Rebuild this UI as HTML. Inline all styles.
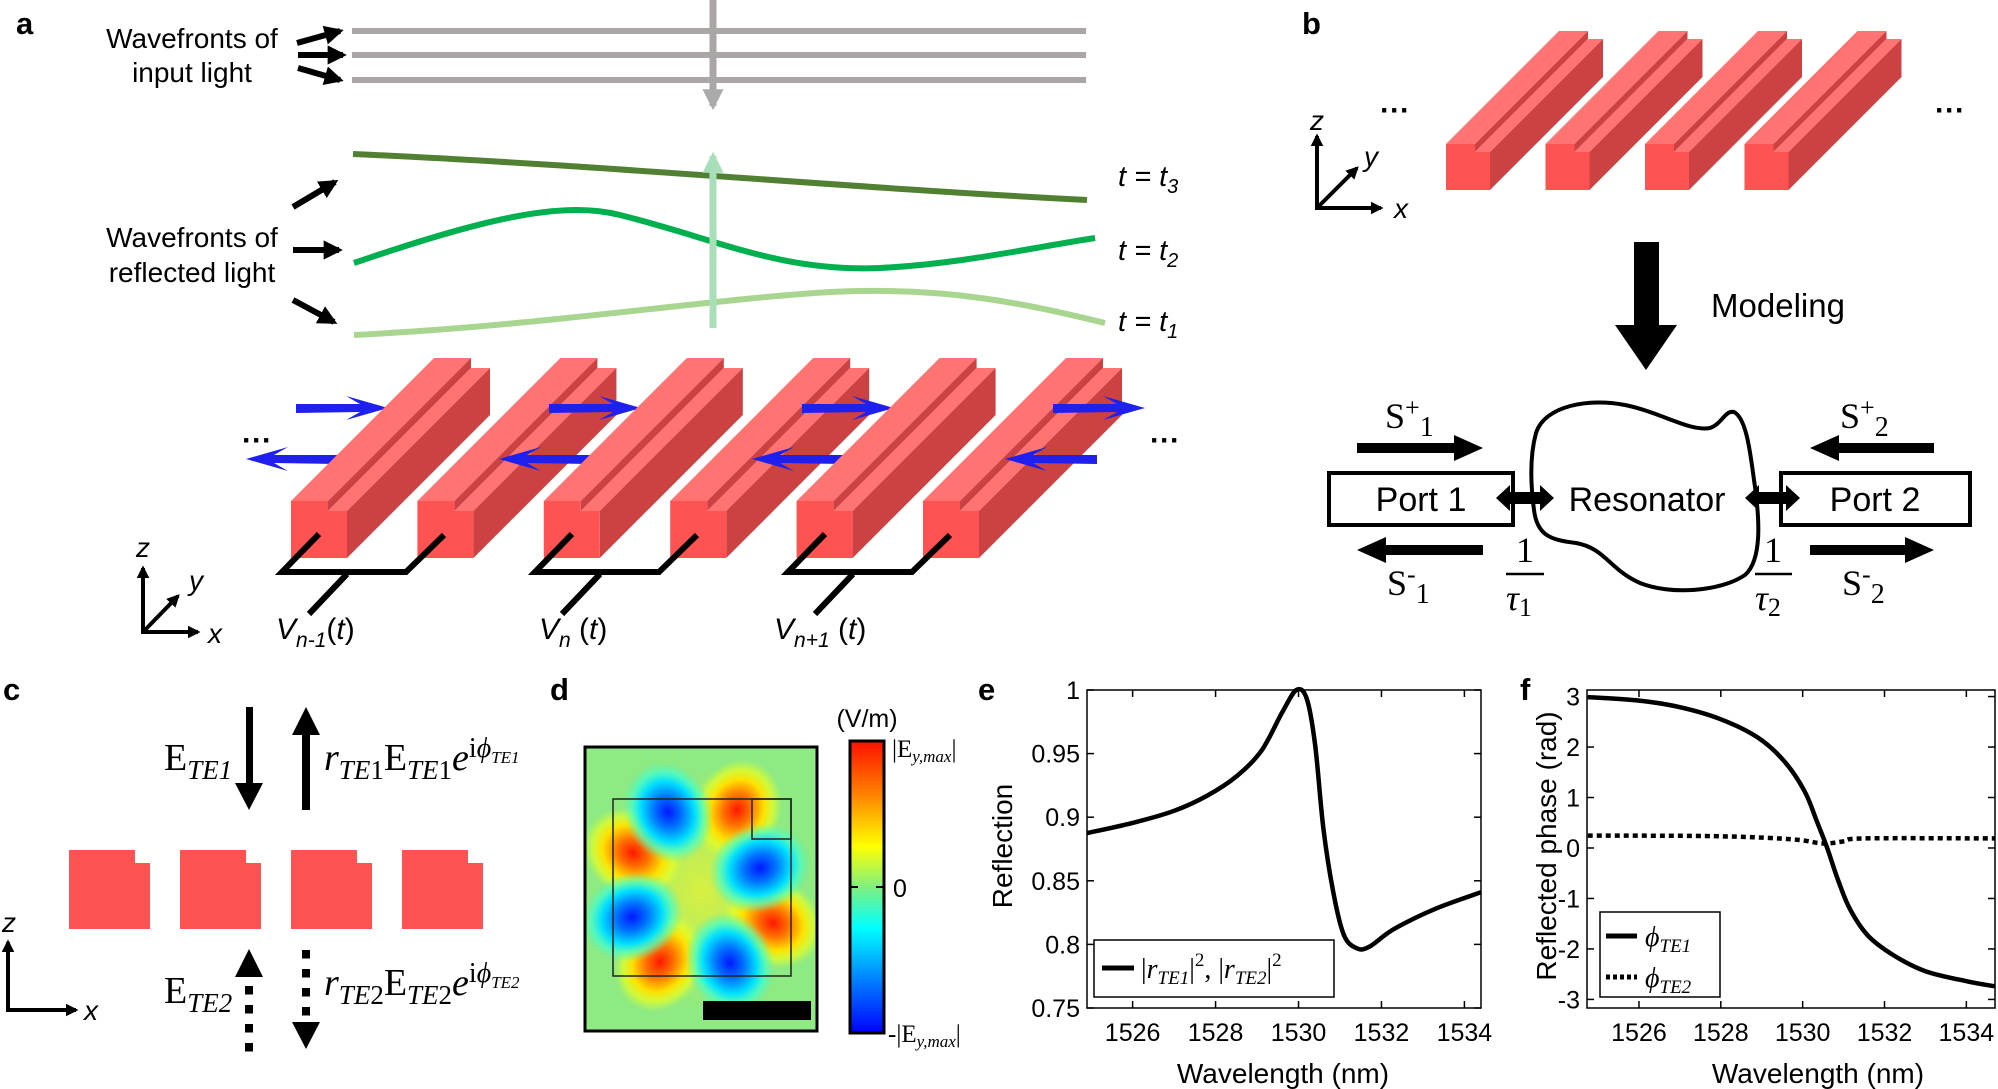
<!DOCTYPE html>
<html><head><meta charset="utf-8"><style>
html,body{margin:0;padding:0;background:#fff;}
svg{display:block;font-family:"Liberation Sans",sans-serif;}
.ser{font-family:"Liberation Serif",serif;}
</style></head><body>
<svg id="fig" width="1998" height="1089" viewBox="0 0 1998 1089" xmlns="http://www.w3.org/2000/svg">
<defs>
<marker id="ah" viewBox="0 0 10 10" refX="8" refY="5" markerWidth="3.2" markerHeight="3.2" orient="auto"><path d="M0,0L10,5L0,10z" fill="#000"/></marker>
<marker id="ahg" viewBox="0 0 10 10" refX="8" refY="5" markerWidth="3" markerHeight="3" orient="auto"><path d="M0,0L10,5L0,10z" fill="#aaa"/></marker>
<marker id="ahl" viewBox="0 0 10 10" refX="8" refY="5" markerWidth="3" markerHeight="3" orient="auto"><path d="M0,0L10,5L0,10z" fill="#a9dfb8"/></marker>
<linearGradient id="jet" x1="0" y1="0" x2="0" y2="1">
<stop offset="0" stop-color="#ff1000"/><stop offset="0.18" stop-color="#ff8000"/><stop offset="0.36" stop-color="#ffff00"/><stop offset="0.5" stop-color="#80f080"/><stop offset="0.64" stop-color="#00ffff"/><stop offset="0.82" stop-color="#0080ff"/><stop offset="1" stop-color="#0000ff"/>
</linearGradient>
<radialGradient id="gred"><stop offset="0" stop-color="#ff1800"/><stop offset="0.3" stop-color="#ff7000"/><stop offset="0.6" stop-color="#ffe000"/><stop offset="0.8" stop-color="#eaff20" stop-opacity="0.7"/><stop offset="1" stop-color="#d0ff40" stop-opacity="0"/></radialGradient>
<radialGradient id="gblue"><stop offset="0" stop-color="#0018ff"/><stop offset="0.3" stop-color="#0070ff"/><stop offset="0.6" stop-color="#00e0ff"/><stop offset="0.8" stop-color="#40ffd0" stop-opacity="0.7"/><stop offset="1" stop-color="#60f0b0" stop-opacity="0"/></radialGradient>
<radialGradient id="gcen"><stop offset="0" stop-color="#d8f040"/><stop offset="1" stop-color="#d8f040" stop-opacity="0"/></radialGradient>
<clipPath id="hmclip"><rect x="585" y="747" width="232" height="284"/></clipPath>
</defs>

<!-- Panel a -->
<g>
<text x="16" y="34" font-size="31" font-weight="bold">a</text>
<text x="192" y="48" font-size="28" text-anchor="middle">Wavefronts of</text>
<text x="192" y="82" font-size="28" text-anchor="middle">input light</text>
<text x="192" y="247" font-size="28" text-anchor="middle">Wavefronts of</text>
<text x="192" y="282" font-size="28" text-anchor="middle">reflected light</text>
<g stroke="#000" stroke-width="6" marker-end="url(#ah)">
<line x1="297" y1="43" x2="340" y2="31"/><line x1="298" y1="55" x2="343" y2="55"/><line x1="298" y1="68" x2="340" y2="80"/>
<line x1="293" y1="207" x2="335" y2="182"/><line x1="293" y1="250" x2="339" y2="250"/><line x1="293" y1="300" x2="334" y2="322"/>
</g>
<g stroke="#aaa6a6" stroke-width="6">
<line x1="352" y1="31" x2="1086" y2="31"/><line x1="352" y1="55" x2="1086" y2="55"/><line x1="352" y1="80" x2="1086" y2="80"/>
</g>
<line x1="713" y1="0" x2="713" y2="106" stroke="#aaa6a6" stroke-width="7" marker-end="url(#ahg)"/>
<path d="M353,154 C600,165 850,188 1087,200" fill="none" stroke="#528032" stroke-width="6"/>
<path d="M354,263 C480,220 560,200 620,215 C720,240 780,272 880,268 C960,264 1030,248 1095,238" fill="none" stroke="#00b04f" stroke-width="6"/>
<path d="M354,335 C550,325 700,300 830,292 C950,286 1030,305 1105,323" fill="none" stroke="#a8d590" stroke-width="6"/>
<line x1="713" y1="328" x2="713" y2="156" stroke="#a9dfb8" stroke-width="7" marker-end="url(#ahl)"/>
<g font-size="29" font-style="italic">
<text x="1118" y="186">t = t<tspan font-size="20" dy="7">3</tspan></text>
<text x="1118" y="260">t = t<tspan font-size="20" dy="7">2</tspan></text>
<text x="1118" y="331">t = t<tspan font-size="20" dy="7">1</tspan></text>
</g>
<g id="barsA"></g>
<text x="242" y="450" font-size="30" font-weight="bold">···</text>
<text x="1150" y="450" font-size="30" font-weight="bold">···</text>
<g id="wiresA" stroke="#000" stroke-width="6" fill="none"></g>
<g font-size="30" font-style="italic">
<text x="276" y="639">V<tspan font-size="21" dy="8">n-1</tspan><tspan dy="-8" font-style="normal">(</tspan>t<tspan font-style="normal">)</tspan></text>
<text x="539" y="639">V<tspan font-size="21" dy="8">n</tspan><tspan dy="-8" font-style="normal"> (</tspan>t<tspan font-style="normal">)</tspan></text>
<text x="774" y="639">V<tspan font-size="21" dy="8">n+1</tspan><tspan dy="-8" font-style="normal"> (</tspan>t<tspan font-style="normal">)</tspan></text>
</g>
<g stroke="#000" stroke-width="4" fill="none">
<line x1="143" y1="632" x2="143" y2="568" marker-end="url(#ah)"/><line x1="141" y1="632" x2="198" y2="632" marker-end="url(#ah)"/><line x1="143" y1="632" x2="178" y2="596" marker-end="url(#ah)"/>
</g>
<g font-size="28" font-style="italic"><text x="136" y="557">z</text><text x="189" y="590">y</text><text x="208" y="643">x</text></g>
</g>

<!-- Panel b -->
<g>
<text x="1302" y="34" font-size="31" font-weight="bold">b</text>
<g id="barsB"></g>
<text x="1380" y="120" font-size="30" font-weight="bold">···</text>
<text x="1935" y="120" font-size="30" font-weight="bold">···</text>
<g stroke="#000" stroke-width="4" fill="none">
<line x1="1317" y1="208" x2="1317" y2="136" marker-end="url(#ah)"/><line x1="1315" y1="208" x2="1381" y2="208" marker-end="url(#ah)"/><line x1="1317" y1="208" x2="1357" y2="168" marker-end="url(#ah)"/>
</g>
<g font-size="28" font-style="italic"><text x="1310" y="130">z</text><text x="1364" y="166">y</text><text x="1394" y="218">x</text></g>
<path d="M1634,242H1659V325H1677L1646,370L1615,325H1634Z" fill="#000"/>
<text x="1778" y="317" font-size="33" text-anchor="middle">Modeling</text>
<rect x="1329" y="473" width="184" height="52" fill="none" stroke="#000" stroke-width="4"/>
<text x="1421" y="511" font-size="34" text-anchor="middle">Port 1</text>
<rect x="1781" y="473" width="189" height="52" fill="none" stroke="#000" stroke-width="4"/>
<text x="1875" y="511" font-size="34" text-anchor="middle">Port 2</text>
<path d="M1536,433 C1545,405 1590,398 1625,405 C1660,412 1690,432 1710,428 C1722,424 1725,410 1734,412 C1746,418 1750,450 1754,480 C1760,520 1762,560 1745,575 C1720,592 1670,595 1640,583 C1610,570 1605,548 1576,543 C1550,540 1537,535 1534,510 C1530,480 1530,455 1536,433Z" fill="none" stroke="#000" stroke-width="4"/>
<text x="1647" y="511" font-size="34" text-anchor="middle">Resonator</text>
<g fill="#000">
<path d="M1357,443H1454V435L1483,448L1454,461V453H1357Z"/>
<path d="M1483,545H1386V537L1357,550L1386,563V555H1483Z"/>
<path d="M1934,443H1839V435L1810,448L1839,461V453H1934Z"/>
<path d="M1810,545H1905V537L1934,550L1905,563V555H1810Z"/>
<path d="M1496,498L1510,485V492H1540V485L1554,498L1540,511V504H1510V511Z"/>
<path d="M1745,498L1759,485V492H1786V485L1800,498L1786,511V504H1759V511Z"/>
</g>
<g class="ser" font-size="36">
<text x="1385" y="428">S<tspan font-size="26" dy="-12">+</tspan><tspan font-size="28" dy="20">1</tspan></text>
<text x="1387" y="595">S<tspan font-size="26" dy="-12">-</tspan><tspan font-size="28" dy="20">1</tspan></text>
<text x="1840" y="428">S<tspan font-size="26" dy="-12">+</tspan><tspan font-size="28" dy="20">2</tspan></text>
<text x="1842" y="595">S<tspan font-size="26" dy="-12">-</tspan><tspan font-size="28" dy="20">2</tspan></text>
<text x="1516" y="562" font-size="36">1</text><text x="1764" y="562" font-size="36">1</text>
<text x="1506" y="610" font-style="italic">τ<tspan font-size="26" font-style="normal" dy="6">1</tspan></text>
<text x="1755" y="610" font-style="italic">τ<tspan font-size="26" font-style="normal" dy="6">2</tspan></text>
</g>
<line x1="1506" y1="574" x2="1544" y2="574" stroke="#000" stroke-width="2.5"/>
<line x1="1755" y1="574" x2="1792" y2="574" stroke="#000" stroke-width="2.5"/>
</g>

<!-- Panel c -->
<g>
<text x="3" y="700" font-size="31" font-weight="bold">c</text>
<g id="barsC" fill="#ff5252"></g>
<path d="M246,707H253V783H263L249,810L235,783H246Z" fill="#000"/>
<path d="M302,810H310V735H320L306,707L292,735H302Z" fill="#000"/>
<path d="M235,977L249,949L263,977Z" fill="#000"/>
<line x1="249" y1="986" x2="249" y2="1052" stroke="#000" stroke-width="8" stroke-dasharray="8.5,10.5"/>
<line x1="306" y1="950" x2="306" y2="1016" stroke="#000" stroke-width="8" stroke-dasharray="8.5,10.5"/>
<path d="M292,1022L320,1022L306,1049Z" fill="#000"/>
<g class="ser" font-size="38">
<text x="164" y="770">E<tspan font-size="27" font-style="italic" dy="9">TE1</tspan></text>
<text x="324" y="770"><tspan font-style="italic">r</tspan><tspan font-size="27" font-style="italic" dy="9">TE</tspan><tspan font-size="27">1</tspan><tspan dy="-9">E</tspan><tspan font-size="27" font-style="italic" dy="9">TE</tspan><tspan font-size="27">1</tspan><tspan font-style="italic" dy="-9">e</tspan><tspan font-size="28" dy="-13">i</tspan><tspan font-size="28" font-style="italic">ϕ</tspan><tspan font-size="17" font-style="italic" dy="6">TE1</tspan></text>
<text x="164" y="1003">E<tspan font-size="27" font-style="italic" dy="9">TE2</tspan></text>
<text x="324" y="995"><tspan font-style="italic">r</tspan><tspan font-size="27" font-style="italic" dy="9">TE</tspan><tspan font-size="27">2</tspan><tspan dy="-9">E</tspan><tspan font-size="27" font-style="italic" dy="9">TE</tspan><tspan font-size="27">2</tspan><tspan font-style="italic" dy="-9">e</tspan><tspan font-size="28" dy="-13">i</tspan><tspan font-size="28" font-style="italic">ϕ</tspan><tspan font-size="17" font-style="italic" dy="6">TE2</tspan></text>
</g>
<g stroke="#000" stroke-width="4" fill="none">
<line x1="8" y1="1010" x2="8" y2="942" marker-end="url(#ah)"/><line x1="6" y1="1010" x2="76" y2="1010" marker-end="url(#ah)"/>
</g>
<g font-size="28" font-style="italic"><text x="2" y="932">z</text><text x="84" y="1020">x</text></g>
</g>

<!-- Panel d -->
<g>
<text x="550" y="700" font-size="31" font-weight="bold">d</text>
<g clip-path="url(#hmclip)">
<rect x="585" y="747" width="232" height="284" fill="#8eea82"/>
<ellipse cx="702" cy="890" rx="100" ry="120" fill="url(#gcen)"/>
<g id="lobes"></g>
</g>
<rect x="585" y="747" width="232" height="284" fill="none" stroke="#000" stroke-width="3"/>
<rect x="613" y="799" width="178" height="177" fill="none" stroke="#222" stroke-width="1.5"/>
<rect x="752" y="799" width="39" height="40" fill="none" stroke="#222" stroke-width="1.5"/>
<rect x="703" y="1001" width="108" height="19" fill="#000"/>
<rect x="850" y="741" width="34" height="292" fill="url(#jet)" stroke="#000" stroke-width="3"/>
<line x1="851" y1="887" x2="858" y2="887" stroke="#000" stroke-width="2"/>
<line x1="876" y1="887" x2="883" y2="887" stroke="#000" stroke-width="2"/>
<text x="867" y="727" font-size="25" text-anchor="middle">(V/m)</text>
<text x="892" y="757" class="ser" font-size="25">|E<tspan font-size="17" font-style="italic" dy="5">y,max</tspan><tspan dy="-5">|</tspan></text>
<text x="893" y="897" font-size="25">0</text>
<text x="888" y="1042" class="ser" font-size="25">-|E<tspan font-size="17" font-style="italic" dy="5">y,max</tspan><tspan dy="-5">|</tspan></text>
</g>

<!-- Panel e -->
<g>
<text x="978" y="700" font-size="31" font-weight="bold">e</text>
<g id="chartE"></g>
<text transform="translate(1012,846) rotate(-90)" font-size="28" text-anchor="middle">Reflection</text>
<text x="1283" y="1083" font-size="28" text-anchor="middle">Wavelength (nm)</text>
<g>
<rect x="1094" y="940" width="240" height="57" fill="#fff" stroke="#000" stroke-width="1.5"/>
<line x1="1102" y1="968" x2="1134" y2="968" stroke="#000" stroke-width="5"/>
<text x="1141" y="978" class="ser" font-size="28">|<tspan font-style="italic">r</tspan><tspan font-size="19" font-style="italic" dy="6">TE1</tspan><tspan dy="-6">|</tspan><tspan font-size="19" dy="-12">2</tspan><tspan dy="12">, |</tspan><tspan font-style="italic">r</tspan><tspan font-size="19" font-style="italic" dy="6">TE2</tspan><tspan dy="-6">|</tspan><tspan font-size="19" dy="-12">2</tspan></text>
</g>
</g>

<!-- Panel f -->
<g>
<text x="1520" y="700" font-size="31" font-weight="bold">f</text>
<g id="chartF"></g>
<text transform="translate(1556,846) rotate(-90)" font-size="28" text-anchor="middle">Reflected phase (rad)</text>
<text x="1818" y="1083" font-size="28" text-anchor="middle">Wavelength (nm)</text>
<g>
<rect x="1600" y="912" width="120" height="85" fill="#fff" stroke="#000" stroke-width="1.5"/>
<line x1="1606" y1="936" x2="1637" y2="936" stroke="#000" stroke-width="5"/>
<line x1="1606" y1="977" x2="1637" y2="977" stroke="#000" stroke-width="5" stroke-dasharray="4,3"/>
<text x="1645" y="946" class="ser" font-size="28" font-style="italic">ϕ<tspan font-size="19" dy="6">TE1</tspan></text>
<text x="1645" y="987" class="ser" font-size="28" font-style="italic">ϕ<tspan font-size="19" dy="6">TE2</tspan></text>
</g>
</g>
</svg>
<script>
// ---- chart data ----
const wavelengthE = [1524.9,1526,1527,1527.8,1528.5,1529.1,1529.6,1529.95,1530.2,1530.4,1530.6,1530.85,1531.1,1531.4,1531.7,1532.3,1533.3,1534.4];
const reflection = [0.8875,0.8955,0.905,0.917,0.932,0.952,0.982,1.0,0.993,0.957,0.891,0.839,0.807,0.797,0.798,0.812,0.828,0.841];
const wavelengthF1 = [1524.75,1526,1527,1528,1528.9,1529.55,1530.05,1530.35,1530.6,1530.85,1531.15,1531.6,1532.25,1533,1534,1534.7];
const phaseTE1 = [2.99,2.92,2.79,2.55,2.19,1.72,1.12,0.52,0.0,-0.6,-1.2,-1.74,-2.14,-2.44,-2.64,-2.74];
const wavelengthF2 = [1524.75,1527.35,1528.9,1529.9,1530.5,1531,1531.5,1534.7];
const phaseTE2 = [0.245,0.24,0.21,0.16,0.09,0.13,0.19,0.19];
const xTicks = [1526,1528,1530,1532,1534];
const yTicksE = [0.75,0.8,0.85,0.9,0.95,1];
const yTickLabelsE = ["0.75","0.8","0.85","0.9","0.95","1"];
const yTicksF = [-3,-2,-1,0,1,2,3];
const yTickLabelsF = ["-3","-2","-1","0","1","2","3"];

const NS='http://www.w3.org/2000/svg';
function mk(tag, attrs, parent){const e=document.createElementNS(NS,tag);for(const k in attrs)e.setAttribute(k,attrs[k]);parent.appendChild(e);return e;}
function smooth(pts){let d='M'+pts[0][0].toFixed(1)+','+pts[0][1].toFixed(1);
 for(let i=0;i<pts.length-1;i++){const p0=pts[i-1]||pts[i],p1=pts[i],p2=pts[i+1],p3=pts[i+2]||p2;
 const c1=[p1[0]+(p2[0]-p0[0])/6,p1[1]+(p2[1]-p0[1])/6],c2=[p2[0]-(p3[0]-p1[0])/6,p2[1]-(p3[1]-p1[1])/6];
 d+=' C'+c1[0].toFixed(1)+','+c1[1].toFixed(1)+' '+c2[0].toFixed(1)+','+c2[1].toFixed(1)+' '+p2[0].toFixed(1)+','+p2[1].toFixed(1);}return d;}

function axes(g, box, xd, yd, yt, ytl, prefix){
 const sx=v=>box.l+(v-xd[0])/(xd[1]-xd[0])*(box.r-box.l);
 const sy=v=>box.b-(v-yd[0])/(yd[1]-yd[0])*(box.b-box.t);
 let r=mk('rect',{x:box.l,y:box.t,width:box.r-box.l,height:box.b-box.t,fill:'none',stroke:'#000','stroke-width':1.5},g);
 
 
 xTicks.forEach(v=>{const x=sx(v);
  mk('line',{x1:x,y1:box.b,x2:x,y2:box.b-7,stroke:'#000','stroke-width':1.5},g);
  mk('line',{x1:x,y1:box.t,x2:x,y2:box.t+7,stroke:'#000','stroke-width':1.5},g);
  const t=mk('text',{x:x,y:box.b+33,'font-size':25,'text-anchor':'middle'},g);t.textContent=String(v);
  
  });
 yt.forEach((v,i)=>{const y=sy(v);
  mk('line',{x1:box.l,y1:y,x2:box.l+7,y2:y,stroke:'#000','stroke-width':1.5},g);
  mk('line',{x1:box.r,y1:y,x2:box.r-7,y2:y,stroke:'#000','stroke-width':1.5},g);
  const t=mk('text',{x:box.l-7,y:y+9,'font-size':25,'text-anchor':'end'},g);t.textContent=ytl[i];
  
  });
 return {sx,sy};
}
// Panel e
(function(){const g=document.getElementById('chartE');
 const box={l:1087,r:1481,t:690,b:1008};
 const {sx,sy}=axes(g,box,[1524.9,1534.4],[0.75,1.0],yTicksE,yTickLabelsE,'e');
 const p=mk('path',{d:smooth(wavelengthE.map((w,i)=>[sx(w),sy(reflection[i])])),fill:'none',stroke:'#000','stroke-width':4.5,'stroke-linejoin':'round'},g);
 
 
})();
// Panel f
(function(){const g=document.getElementById('chartF');
 const box={l:1587,r:1995,t:690,b:1008};
 const {sx,sy}=axes(g,box,[1524.73,1534.7],[-3.17,3.13],yTicksF,yTickLabelsF,'f');
 const p1=mk('path',{d:smooth(wavelengthF1.map((w,i)=>[sx(w),sy(phaseTE1[i])])),fill:'none',stroke:'#000','stroke-width':4.5},g);
 
 
 const p2=mk('path',{d:smooth(wavelengthF2.map((w,i)=>[sx(w),sy(phaseTE2[i])])),fill:'none',stroke:'#000','stroke-width':4.5,'stroke-dasharray':'5,4'},g);
 
 
})();

// ---- illustrations ----
function bar3d(g,x0,yb,w,wl,h,drop,dx,dy){
 const yt=yb-h, y2=yt+drop;
 const P=a=>a.map(p=>p[0]+','+p[1]).join(' ');
 mk('polygon',{points:P([[x0,yt],[x0+wl,yt],[x0+wl+dx,yt+dy],[x0+dx,yt+dy]]),fill:'#ff7373'},g);
 mk('polygon',{points:P([[x0+wl,yt],[x0+wl,y2],[x0+wl+dx,y2+dy],[x0+wl+dx,yt+dy]]),fill:'#cc4141'},g);
 mk('polygon',{points:P([[x0+wl,y2],[x0+w,y2],[x0+w+dx,y2+dy],[x0+wl+dx,y2+dy]]),fill:'#ff7373'},g);
 mk('polygon',{points:P([[x0+w,y2],[x0+w,yb],[x0+w+dx,yb+dy],[x0+w+dx,y2+dy]]),fill:'#cc4141'},g);
 mk('polygon',{points:P([[x0,yt],[x0+wl,yt],[x0+wl,y2],[x0+w,y2],[x0+w,yb],[x0,yb]]),fill:'#ff5252'},g);
}
function blueArrow(g,x1,x2,y){const dir=Math.sign(x2-x1),hx=x2-dir*28;
 mk('polygon',{points:[[x1,y-4],[hx,y-4],[hx-dir*14,y-12],[x2,y],[hx-dir*14,y+12],[hx,y+4],[x1,y+5]].map(p=>p.join(',')).join(' '),fill:'#2020ee'},g);}
(function(){const g=document.getElementById('barsA');
 for(let i=0;i<6;i++){
  if(i%2===0){const k=i/2; blueArrow(g,296+253*k,388+253*k,408); blueArrow(g,337+253*k,246+253*k,459);}
  bar3d(g,291+126.4*i,558,56,37,57,10,143,-143);
 }
 blueArrow(g,1053,1145,408); blueArrow(g,1097,1005,459);
 const w=document.getElementById('wiresA');
 for(let k=0;k<3;k++){const o=253*k;
  mk('path',{d:`M${319+o},534 L${282+o},572 L${406+o},572 L${444+o},535`},w);
  mk('path',{d:`M${347+o},574 L${309+o},614`},w);}
 const gb=document.getElementById('barsB');
 for(let i=0;i<4;i++) bar3d(gb,1446+99.5*i,190,44,29,46,8,113,-113);
 const gc=document.getElementById('barsC');
 for(let i=0;i<4;i++){const x=69+111*i;
  mk('polygon',{points:`${x},850 ${x+66},850 ${x+66},863 ${x+81},863 ${x+81},929 ${x},929`},gc);}
 const lobes=document.getElementById('lobes');
 const red=[[737,810],[633,853],[773,923],[660,962]], blue=[[668,812],[760,868],[632,917],[730,963]];
 const add=(c,fill)=>{const a=Math.atan2(c[1]-890,c[0]-702)*180/Math.PI;
  mk('ellipse',{cx:c[0],cy:c[1],rx:52,ry:44,fill:fill,transform:`rotate(${a.toFixed(1)} ${c[0]} ${c[1]})`},lobes);};
 red.forEach(c=>add(c,'url(#gred)')); blue.forEach(c=>add(c,'url(#gblue)'));
})();
</script>
</body></html>
